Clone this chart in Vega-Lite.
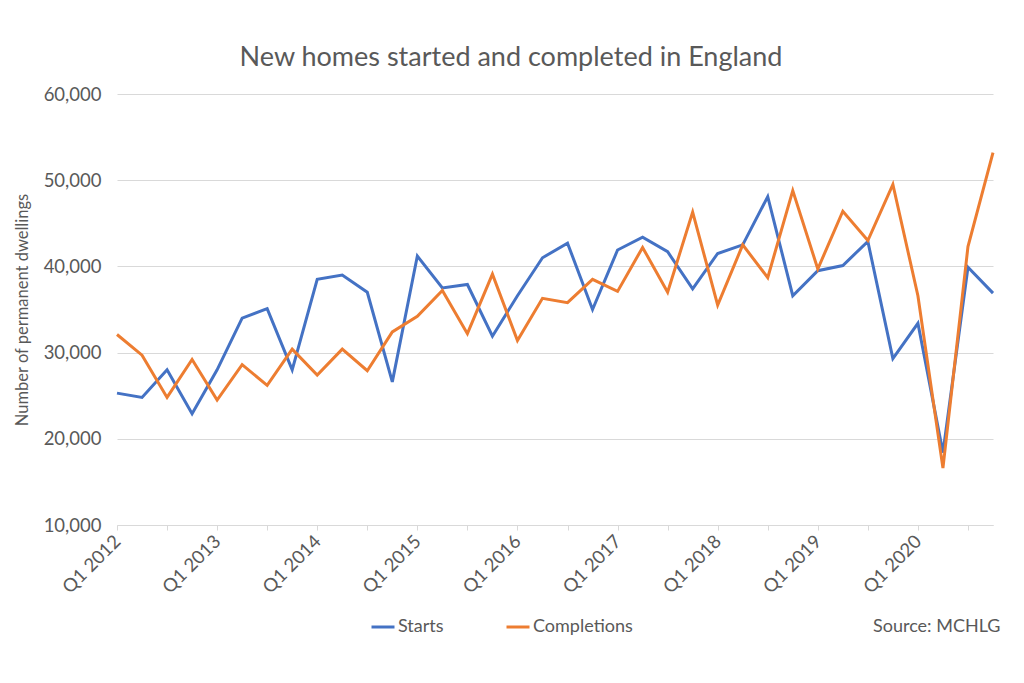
{
  "$schema": "https://vega.github.io/schema/vega-lite/v6.json",
  "width": 876,
  "height": 431,
  "autosize": "none",
  "padding": {"left": 117, "top": 94, "right": 31, "bottom": 158},
  "background": "white",
  "config": {
    "font": "Lato",
    "view": {"stroke": null}
  },
  "title": {
    "text": "New homes started and completed in England",
    "fontSize": 27,
    "fontWeight": "normal",
    "color": "#595959",
    "anchor": "middle",
    "offset": 13,
    "dx": -44
  },
  "datasets": {
    "homes": [
      {"q": "Q1 2012", "i": 0, "Starts": 25300, "Completions": 32100},
      {"q": "Q2 2012", "i": 1, "Starts": 24800, "Completions": 29700},
      {"q": "Q3 2012", "i": 2, "Starts": 28000, "Completions": 24800},
      {"q": "Q4 2012", "i": 3, "Starts": 22900, "Completions": 29200},
      {"q": "Q1 2013", "i": 4, "Starts": 28000, "Completions": 24500},
      {"q": "Q2 2013", "i": 5, "Starts": 34000, "Completions": 28600},
      {"q": "Q3 2013", "i": 6, "Starts": 35100, "Completions": 26200},
      {"q": "Q4 2013", "i": 7, "Starts": 28000, "Completions": 30400},
      {"q": "Q1 2014", "i": 8, "Starts": 38500, "Completions": 27400},
      {"q": "Q2 2014", "i": 9, "Starts": 39000, "Completions": 30400},
      {"q": "Q3 2014", "i": 10, "Starts": 37000, "Completions": 27900},
      {"q": "Q4 2014", "i": 11, "Starts": 26600, "Completions": 32400},
      {"q": "Q1 2015", "i": 12, "Starts": 41200, "Completions": 34200},
      {"q": "Q2 2015", "i": 13, "Starts": 37500, "Completions": 37200},
      {"q": "Q3 2015", "i": 14, "Starts": 37900, "Completions": 32200},
      {"q": "Q4 2015", "i": 15, "Starts": 31900, "Completions": 39100},
      {"q": "Q1 2016", "i": 16, "Starts": 36600, "Completions": 31400},
      {"q": "Q2 2016", "i": 17, "Starts": 41000, "Completions": 36300},
      {"q": "Q3 2016", "i": 18, "Starts": 42700, "Completions": 35800},
      {"q": "Q4 2016", "i": 19, "Starts": 35000, "Completions": 38500},
      {"q": "Q1 2017", "i": 20, "Starts": 41900, "Completions": 37100},
      {"q": "Q2 2017", "i": 21, "Starts": 43400, "Completions": 42200},
      {"q": "Q3 2017", "i": 22, "Starts": 41700, "Completions": 37000},
      {"q": "Q4 2017", "i": 23, "Starts": 37400, "Completions": 46300},
      {"q": "Q1 2018", "i": 24, "Starts": 41500, "Completions": 35500},
      {"q": "Q2 2018", "i": 25, "Starts": 42500, "Completions": 42500},
      {"q": "Q3 2018", "i": 26, "Starts": 48100, "Completions": 38700},
      {"q": "Q4 2018", "i": 27, "Starts": 36600, "Completions": 48800},
      {"q": "Q1 2019", "i": 28, "Starts": 39500, "Completions": 39700},
      {"q": "Q2 2019", "i": 29, "Starts": 40100, "Completions": 46400},
      {"q": "Q3 2019", "i": 30, "Starts": 42900, "Completions": 43000},
      {"q": "Q4 2019", "i": 31, "Starts": 29300, "Completions": 49500},
      {"q": "Q1 2020", "i": 32, "Starts": 33400, "Completions": 36600},
      {"q": "Q2 2020", "i": 33, "Starts": 18400, "Completions": 16600},
      {"q": "Q3 2020", "i": 34, "Starts": 39900, "Completions": 42300},
      {"q": "Q4 2020", "i": 35, "Starts": 36900, "Completions": 53200}
    ]
  },
  "data": {"name": "homes"},
  "transform": [
    {"fold": ["Starts", "Completions"], "as": ["series", "value"]}
  ],
  "mark": {"type": "line", "strokeWidth": 3, "strokeJoin": "miter"},
  "encoding": {
    "x": {
      "field": "q",
      "type": "ordinal",
      "sort": {"field": "i"},
      "scale": {"type": "point", "padding": 0},
      "axis": {
        "values": ["Q1 2012", "Q3 2012", "Q1 2013", "Q3 2013", "Q1 2014", "Q3 2014", "Q1 2015", "Q3 2015", "Q1 2016", "Q3 2016", "Q1 2017", "Q3 2017", "Q1 2018", "Q3 2018", "Q1 2019", "Q3 2019", "Q1 2020", "Q3 2020"],
        "labelExpr": "indexof(datum.value, 'Q1') == 0 ? datum.value : ''",
        "labelAngle": -45,
        "labelAlign": "right",
        "labelBaseline": "middle",
        "labelFontSize": 18.5,
        "labelColor": "#595959",
        "labelPadding": 8,
        "labelOverlap": false,
        "domainColor": "#d9d9d9",
        "tickColor": "#d9d9d9",
        "tickSize": 5,
        "grid": false,
        "title": "Source: MCHLG",
        "titleFontSize": 18,
        "titleFontWeight": "normal",
        "titleColor": "#595959",
        "titleAlign": "right",
        "titleAnchor": null,
        "titleX": 883,
        "titleY": 101,
        "titleBaseline": "middle"
      }
    },
    "y": {
      "field": "value",
      "type": "quantitative",
      "scale": {"domain": [10000, 60000], "nice": false},
      "axis": {
        "values": [10000, 20000, 30000, 40000, 50000, 60000],
        "format": ",.0f",
        "labelFontSize": 18.5,
        "labelColor": "#595959",
        "labelPadding": 16,
        "tickSize": 0,
        "domain": false,
        "gridColor": "#d9d9d9",
        "gridWidth": 1,
        "title": "Number of permanent dwellings",
        "titleFontSize": 16.5,
        "titleFontWeight": "normal",
        "titleColor": "#595959",
        "titleX": -95,
        "titleBaseline": "middle"
      }
    },
    "color": {
      "field": "series",
      "type": "nominal",
      "sort": ["Starts", "Completions"],
      "scale": {"domain": ["Starts", "Completions"], "range": ["#4472C4", "#ED7D31"]},
      "legend": {
        "title": null,
        "orient": "none",
        "direction": "horizontal",
        "legendX": 253,
        "legendY": 520,
        "symbolType": "stroke",
        "symbolSize": 529,
        "symbolStrokeWidth": 3,
        "labelFontSize": 18,
        "labelColor": "#595959",
        "labelOffset": 2,
        "columnPadding": 56
      }
    }
  }
}
